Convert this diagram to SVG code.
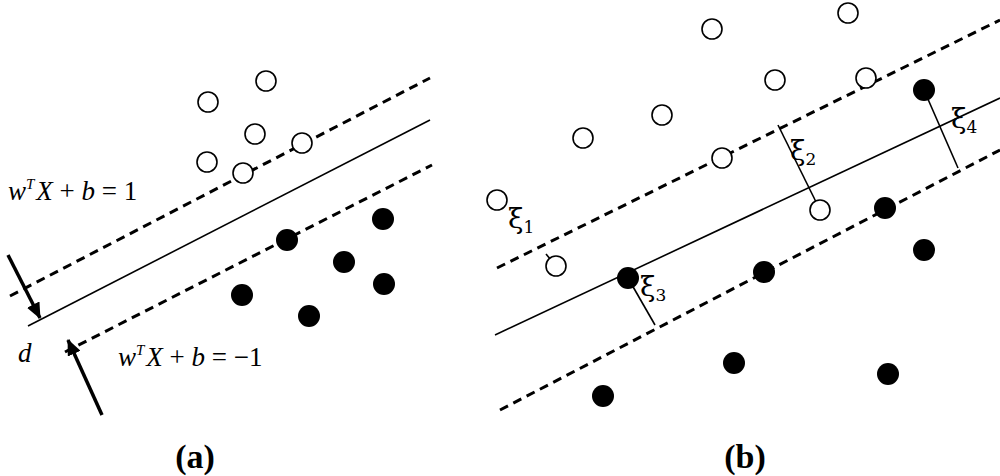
<svg xmlns="http://www.w3.org/2000/svg" width="1000" height="476" viewBox="0 0 1000 476">
<style>
.o{fill:#fff;stroke:#000;stroke-width:1.6}
.f{fill:#000}
.s{stroke:#000;stroke-width:1.6;fill:none}
.a{stroke:#000;stroke-width:3.5;fill:none}
.d{stroke:#000;stroke-width:3;fill:none;stroke-dasharray:9,6}
.t{font-family:"Liberation Serif",serif;font-size:27px}
.i{font-style:italic}
.x{font-family:"DejaVu Serif",serif;font-size:28px}
.b{font-family:"Liberation Serif",serif;font-size:34px;font-weight:bold}
</style>
<defs><marker id="ah" markerWidth="16" markerHeight="14" refX="15" refY="7" orient="auto" markerUnits="userSpaceOnUse"><path d="M0,0L16,7L0,14Z"/></marker></defs>
<rect width="1000" height="476" fill="#fff"/>
<g id="connectors">
<line class="s" x1="28" y1="326" x2="430" y2="120"/>
<line class="d" x1="10" y1="296" x2="430" y2="78"/>
<line class="d" x1="65" y1="352" x2="432" y2="165"/>
<line class="a" x1="8" y1="255" x2="40" y2="318" marker-end="url(#ah)"/>
<line class="a" x1="102" y1="415" x2="68" y2="340" marker-end="url(#ah)"/>
<line class="s" x1="495" y1="335" x2="1000" y2="98"/>
<line class="d" x1="497" y1="268" x2="1000" y2="20"/>
<line class="d" x1="500" y1="410" x2="1000" y2="150"/>
<line class="s" x1="556" y1="266" x2="546" y2="254"/>
<line class="s" x1="778" y1="125" x2="820" y2="210"/>
<line class="s" x1="628" y1="278" x2="655" y2="325"/>
<line class="s" x1="924" y1="90" x2="958" y2="168"/>
</g>
<g id="a-open">
<circle class="o" cx="208" cy="102" r="10"/><circle class="o" cx="266" cy="81" r="10"/>
<circle class="o" cx="255" cy="134" r="10"/><circle class="o" cx="302" cy="143" r="10"/>
<circle class="o" cx="207" cy="162" r="10"/><circle class="o" cx="243" cy="173" r="10"/>
</g>
<g id="a-filled">
<circle class="f" cx="287" cy="240" r="11"/><circle class="f" cx="383" cy="219" r="11"/>
<circle class="f" cx="344" cy="262" r="11"/><circle class="f" cx="384" cy="284" r="11"/>
<circle class="f" cx="242" cy="295" r="11"/><circle class="f" cx="309" cy="316" r="11"/>
</g>
<g id="b-open">
<circle class="o" cx="712" cy="29" r="10"/><circle class="o" cx="848" cy="13" r="10"/>
<circle class="o" cx="497" cy="200" r="10"/><circle class="o" cx="583" cy="138" r="10"/>
<circle class="o" cx="662" cy="115" r="10"/><circle class="o" cx="775" cy="80" r="10"/>
<circle class="o" cx="866" cy="78" r="10"/><circle class="o" cx="722" cy="158" r="10"/>
<circle class="o" cx="820" cy="210" r="10"/><circle class="o" cx="556" cy="266" r="10"/>
</g>
<g id="b-filled">
<circle class="f" cx="924" cy="90" r="11"/><circle class="f" cx="885" cy="208" r="11"/>
<circle class="f" cx="924" cy="250" r="11"/><circle class="f" cx="628" cy="278" r="11"/>
<circle class="f" cx="764" cy="272" r="11"/><circle class="f" cx="734" cy="363" r="11"/>
<circle class="f" cx="888" cy="374" r="11"/><circle class="f" cx="603" cy="396" r="11"/>
</g>
<g id="labels">
<text class="t" x="8" y="200"><tspan class="i">w</tspan><tspan class="i" font-size="15" dy="-11">T</tspan><tspan class="i" dy="11" dx="2">X</tspan> + <tspan class="i">b</tspan> = 1</text>
<text class="t i" x="18" y="362">d</text>
<text class="t" x="118" y="366"><tspan class="i">w</tspan><tspan class="i" font-size="15" dy="-11">T</tspan><tspan class="i" dy="11" dx="2">X</tspan> + <tspan class="i">b</tspan> = −1</text>
<text class="x" x="508" y="228">ξ<tspan font-size="17" dy="5">1</tspan></text>
<text class="x" x="790" y="160">ξ<tspan font-size="17" dy="5">2</tspan></text>
<text class="x" x="640" y="296">ξ<tspan font-size="17" dy="5">3</tspan></text>
<text class="x" x="951" y="128">ξ<tspan font-size="17" dy="5">4</tspan></text>
<text class="b" x="195" y="468" text-anchor="middle">(a)</text>
<text class="b" x="745" y="468" text-anchor="middle">(b)</text>
</g>
</svg>
